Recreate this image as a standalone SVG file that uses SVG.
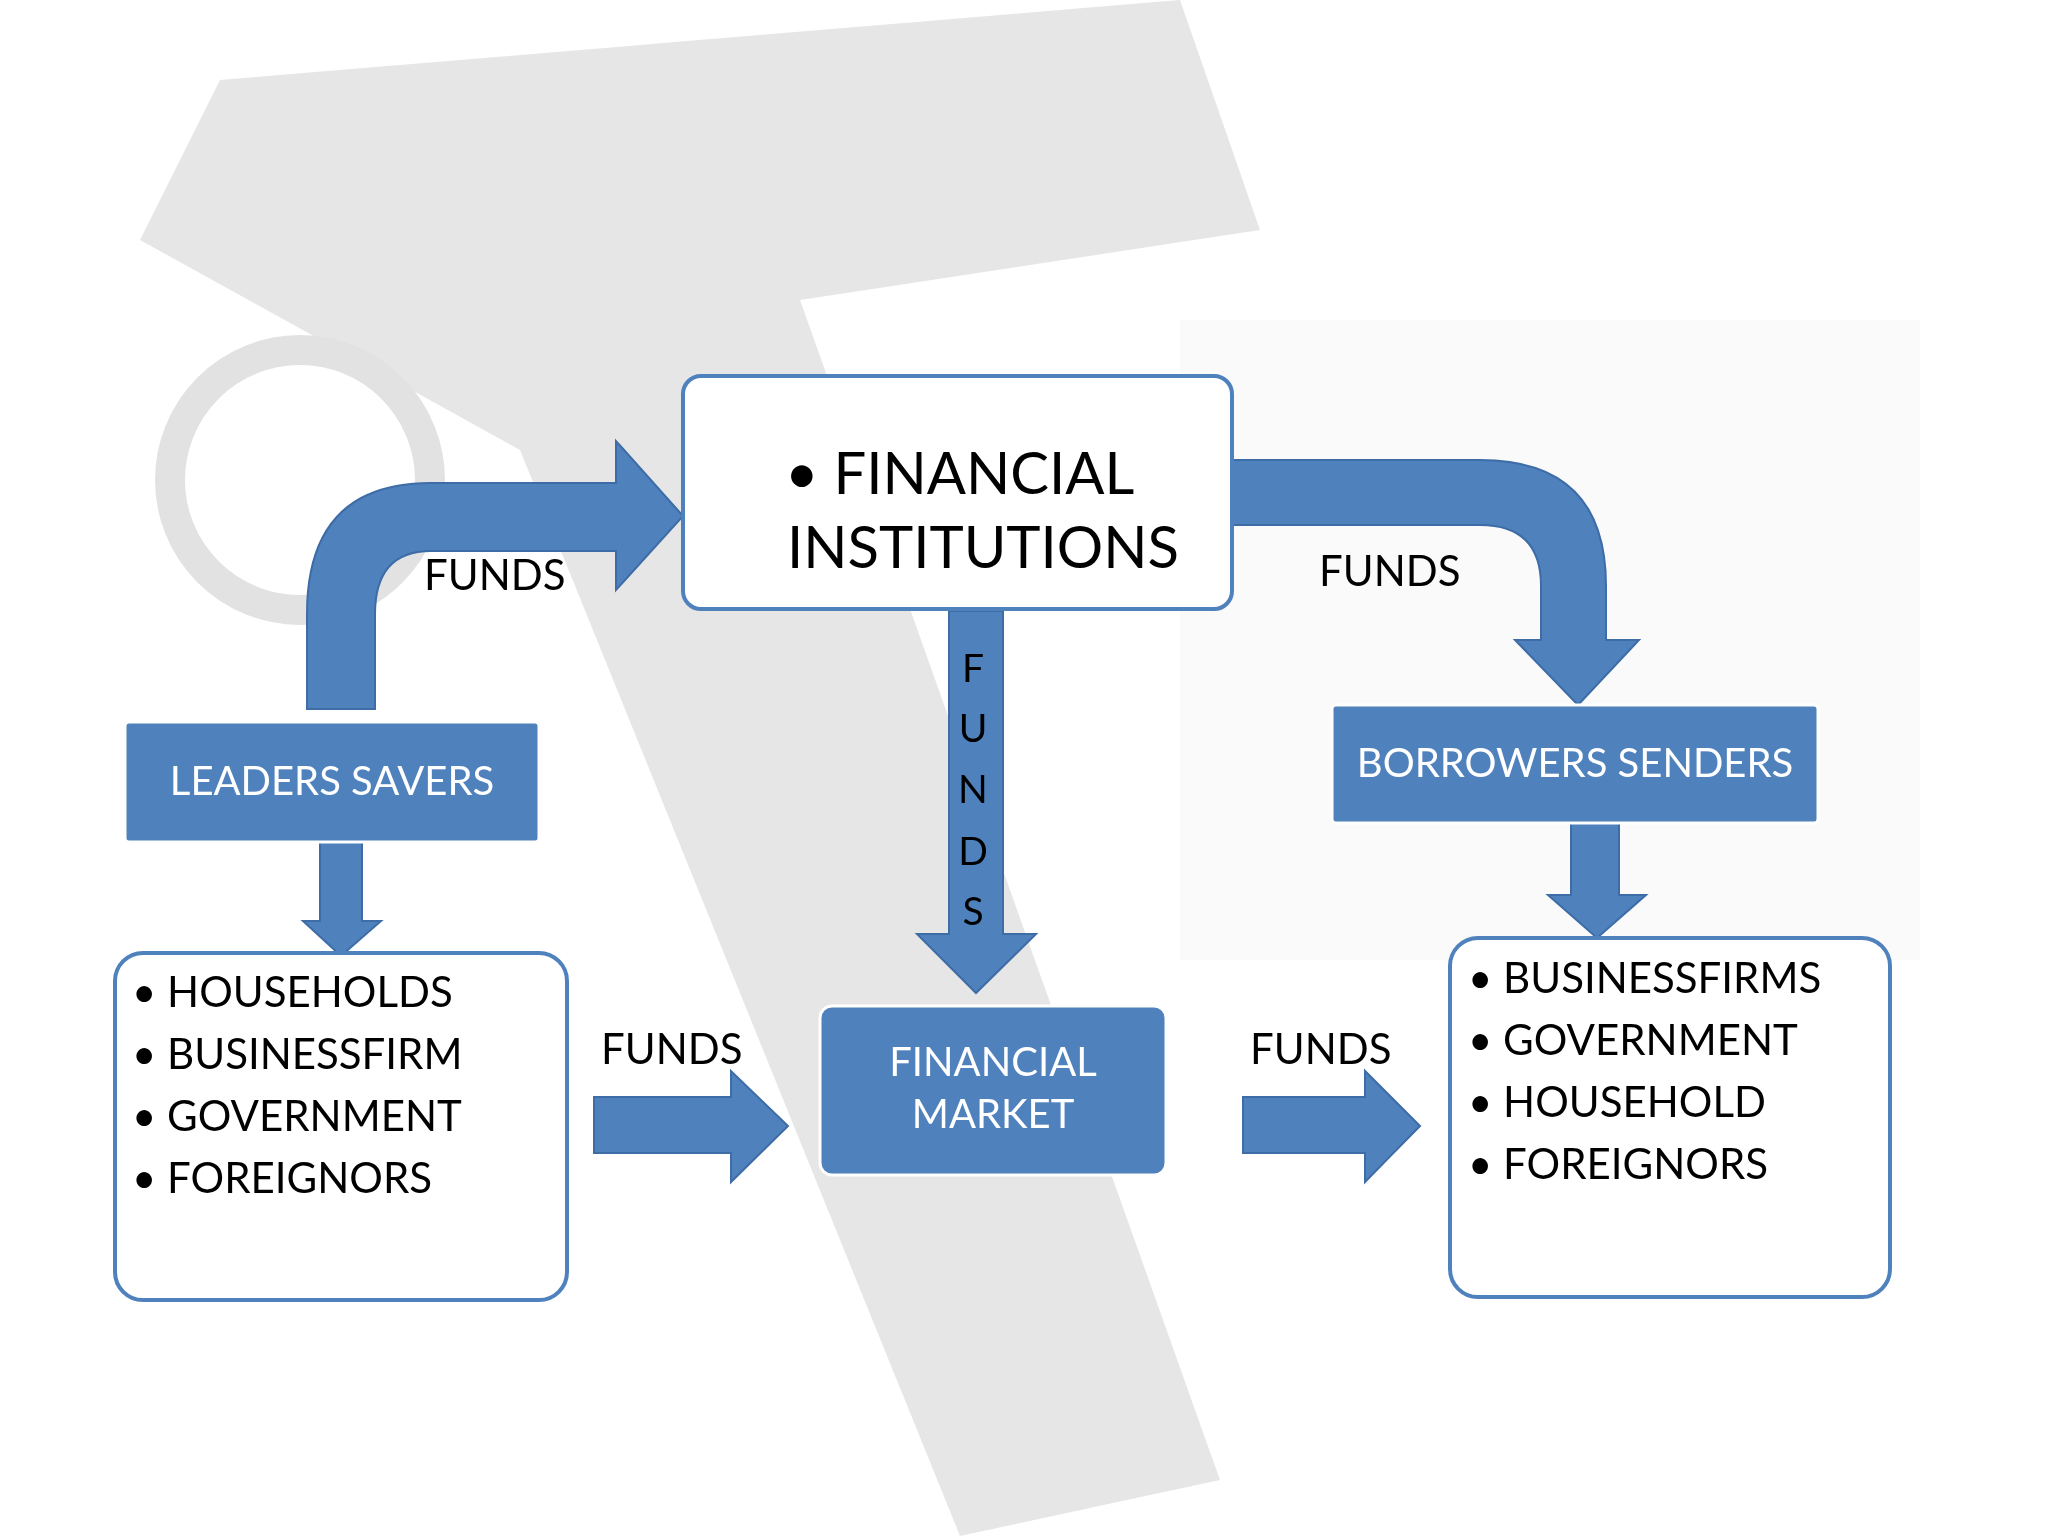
<svg xmlns="http://www.w3.org/2000/svg" width="2048" height="1536" viewBox="0 0 2048 1536">
<style>
.box{fill:#fff;stroke:#4f81bd;stroke-width:4}
.sbox{fill:#4f81bd;stroke:#fff;stroke-width:3}
.arr{fill:#4f81bd;stroke:#3d6ca6;stroke-width:2}
.t{font-family:Lato,"Open Sans",sans-serif;fill:#000}
.w{font-family:Lato,"Open Sans",sans-serif;fill:#fff}
</style>
<rect width="2048" height="1536" fill="#fff"/>
<g id="background" opacity="0.25">
<polygon points="220,80 1180,0 1260,230 800,300 1220,1480 960,1536 520,450 140,240" fill="#9a9a9a"/>
<circle cx="300" cy="480" r="130" fill="none" stroke="#888" stroke-width="30"/>
<rect x="1180" y="320" width="740" height="640" fill="#d8d8d8" opacity="0.5"/>
</g>
<g id="connectors">
<path class="arr" d="M307,709 L307,614 Q307,483 431,483 L616,483 L616,441 L683,516 L616,590 L616,551 L431,551 Q375,551 375,614 L375,709 Z"/>
<path class="arr" d="M1228,460 L1480,460 Q1606,460 1606,586 L1606,640 L1639,640 L1578,705 L1515,640 L1541,640 L1541,586 Q1541,525 1480,525 L1228,525 Z"/>
<path class="arr" d="M320,842 L362,842 L362,921 L381,921 L341,956 L303,921 L320,921 Z"/>
<path class="arr" d="M949,611 L1003,611 L1003,934 L1036,934 L976,993 L917,934 L949,934 Z"/>
<path class="arr" d="M1571,823 L1619,823 L1619,895 L1646,895 L1597,938 L1548,895 L1571,895 Z"/>
<path class="arr" d="M594,1097 L731,1097 L731,1071 L788,1126 L731,1182 L731,1153 L594,1153 Z"/>
<path class="arr" d="M1243,1097 L1365,1097 L1365,1071 L1420,1126 L1365,1182 L1365,1153 L1243,1153 Z"/>
<text class="t" x="424" y="590" font-size="42">FUNDS</text>
<text class="t" x="1319" y="586" font-size="42">FUNDS</text>
<text class="t" x="601" y="1064" font-size="42">FUNDS</text>
<text class="t" x="1250" y="1064" font-size="42">FUNDS</text>
<g class="t" font-size="39" text-anchor="middle">
<text x="973" y="682">F</text><text x="973" y="742">U</text><text x="973" y="803">N</text><text x="973" y="865">D</text><text x="973" y="925">S</text>
</g>
</g>
<g id="fin-inst">
<rect class="box" x="683" y="376" width="549" height="233" rx="18"/>
<text class="t" x="785" y="494" font-size="58">• FINANCIAL</text>
<text class="t" x="983" y="568" font-size="58" text-anchor="middle">INSTITUTIONS</text>
</g>
<g id="leaders">
<rect class="sbox" x="125" y="722" width="414" height="120" rx="4"/>
<text class="w" x="332" y="795" font-size="40" text-anchor="middle">LEADERS SAVERS</text>
</g>
<g id="borrowers">
<rect class="sbox" x="1332" y="705" width="486" height="118" rx="4"/>
<text class="w" x="1575" y="777" font-size="40" text-anchor="middle">BORROWERS SENDERS</text>
</g>
<g id="market">
<rect class="sbox" x="820" y="1006" width="346" height="169" rx="12"/>
<text class="w" x="993" y="1076" font-size="40" text-anchor="middle">FINANCIAL</text>
<text class="w" x="993" y="1128" font-size="40" text-anchor="middle">MARKET</text>
</g>
<g id="lenders-list">
<rect class="box" x="115" y="953" width="452" height="347" rx="28"/>
<g class="t" font-size="42">
<text x="132" y="1007">•  HOUSEHOLDS</text>
<text x="132" y="1069">•  BUSINESSFIRM</text>
<text x="132" y="1131">•  GOVERNMENT</text>
<text x="132" y="1193">•  FOREIGNORS</text>
</g>
</g>
<g id="borrowers-list">
<rect class="box" x="1450" y="938" width="440" height="359" rx="28"/>
<g class="t" font-size="42">
<text x="1468" y="993">•  BUSINESSFIRMS</text>
<text x="1468" y="1055">•  GOVERNMENT</text>
<text x="1468" y="1117">•  HOUSEHOLD</text>
<text x="1468" y="1179">•  FOREIGNORS</text>
</g>
</g>
</svg>
